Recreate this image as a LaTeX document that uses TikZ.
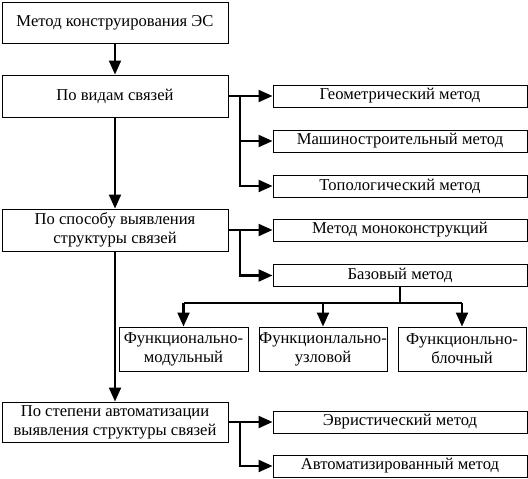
\documentclass[tikz,border=0pt]{standalone}
\usepackage{fontspec}
\setmainfont{Liberation Serif}
\usetikzlibrary{arrows.meta}
\begin{document}
\begin{tikzpicture}[x=1pt,y=-1pt,
  box/.style={draw,line width=1pt,inner sep=0pt,align=center,font=\fontsize{16.6}{19}\selectfont},
  rbox/.style={box,minimum width=254,minimum height=22},
  fbox/.style={box,minimum width=128,minimum height=44},
  conn/.style={line width=2.2pt,-{Triangle[length=14pt,width=12pt]}},
  wire/.style={line width=2.2pt}]
\useasboundingbox (0,0) rectangle (528,479);
\fill[white] (0,0) rectangle (528,479);
\node[box,minimum width=226,minimum height=41] (b1) at (115,22.5) {Метод конструирования ЭС};
\node[box,minimum width=226,minimum height=42] (b2) at (115,96) {По видам связей};
\node[box,minimum width=226,minimum height=42] (b3) at (115,230) {По способу выявления\\структуры связей};
\node[box,minimum width=226,minimum height=40] (b4) at (115,422) {По степени автоматизации\\выявления структуры связей};
\node[rbox] (g1) at (400,96) {Геометрический метод};
\node[rbox] (g2) at (400,141) {Машиностроительный метод};
\node[rbox] (g3) at (400,186) {Топологический метод};
\node[rbox] (m1) at (400,230) {Метод моноконструкций};
\node[rbox] (m2) at (400,275.5) {Базовый метод};
\node[fbox,minimum width=129] (f1) at (183.5,349) {Функционально-\\модульный};
\node[fbox] (f2) at (323,349) {Функционлально-\\узловой};
\node[fbox] (f3) at (462,349) {Функционльно-\\блочный};
\node[rbox] (e1) at (400,422) {Эвристический метод};
\node[rbox] (e2) at (400,466) {Автоматизированный метод};
\coordinate (t1) at (240,0);
\coordinate (bus) at (0,303);
% main chain
\draw[conn] (b1.south) -- (b2.north);
\draw[conn] (b2.south) -- (b3.north);
\draw[conn] (b3.south) -- (b4.north);
% by types of links
\draw[conn] (b2.east) -- (g1.west);
\draw[conn] (b2.east -| t1) |- (g2.west);
\draw[conn] (b2.east -| t1) |- (g3.west);
% by way of revealing
\draw[conn] (b3.east) -- (m1.west);
\draw[conn] (b3.east -| t1) |- (m2.west);
% base method branches
\draw[wire] (m2.south) -- (m2.south |- bus);
\draw[wire] (f1.north |- bus) -- (f3.north |- bus);
\draw[conn] (f1.north |- bus) -- (f1.north);
\draw[conn] (f2.north |- bus) -- (f2.north);
\draw[conn] (f3.north |- bus) -- (f3.north);
% automation
\draw[conn] (b4.east) -- (e1.west);
\draw[conn] (b4.east -| t1) |- (e2.west);
\end{tikzpicture}
\end{document}
